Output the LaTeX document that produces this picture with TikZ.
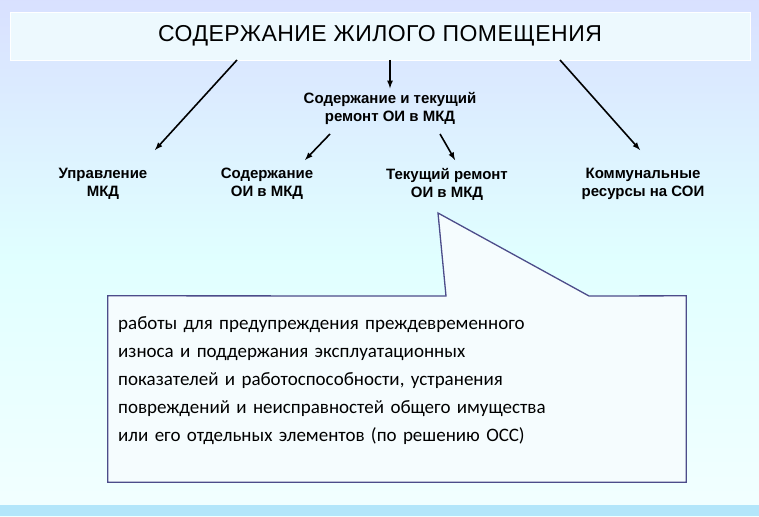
\documentclass[tikz,border=0pt]{standalone}
\usepackage{fontspec}
\setmainfont{Liberation Sans}
\newfontfamily\calfont{Carlito}
\begin{document}
\begin{tikzpicture}[x=1pt,y=-1pt,
  lbl/.style={font=\bfseries\fontsize{15}{18}\selectfont,align=center,text=black},
  arr/.style={-latex,line width=1.6pt,black},
  bord/.style={draw=black!40!blue!40!gray,line width=1.3pt}]
\useasboundingbox (0,0) rectangle (759,516);
\shade[top color=cyan!20!blue!15!white,bottom color=cyan!5!white,middle color=cyan!12!white] (0,0) rectangle (759,516);
\fill[cyan!30!white] (0,505) rectangle (759,516);
\node[fill=cyan!7!white,draw=white,minimum width=740pt,minimum height=48pt,inner sep=0pt] (title) at (380,36)
  {\fontsize{23}{26}\selectfont\addfontfeature{LetterSpace=2} СОДЕРЖАНИЕ ЖИЛОГО ПОМЕЩЕНИЯ};
\coordinate (tl) at (237,60); \coordinate (tm) at (390,60); \coordinate (tr) at (560,60);
\node[lbl] (mid) at (390,108) {Содержание и текущий\\ремонт ОИ в МКД};
\node[lbl] (a) at (103,184) {Управление\\МКД};
\node[lbl] (b) at (267,184) {Содержание\\ОИ в МКД};
\node[lbl] (c) at (447,184) {Текущий ремонт\\ОИ в МКД};
\node[lbl] (d) at (643,184) {Коммунальные\\ресурсы на СОИ};
\draw[arr] (tl) -- (155,150);
\draw[arr] (tm) -- (mid.north);
\draw[arr] (tr) -- (640,150);
\draw[arr] (330,134) -- (305,160);
\draw[arr] (440,134) -- (455,160);
\node[inner sep=0pt,minimum width=578pt,minimum height=186pt] (box) at (397,389) {};
\coordinate (tip) at (438,213);
\filldraw[bord,fill=cyan!4!white] (box.north west) -- (446,296) -- (tip) -- (589,296) -- (box.north east) -- (box.south east) -- (box.south west) -- cycle;
\node[anchor=north west,inner sep=0pt,text width=558pt,font=\calfont\fontsize{19}{28}\selectfont] (txt) at (118,316) {%
\makebox[558pt][s]{работы для предупреждения преждевременного}\\
\makebox[558pt][s]{износа и поддержания эксплуатационных}\\
\makebox[558pt][s]{показателей и работоспособности, устранения}\\
\makebox[558pt][s]{повреждений и неисправностей общего имущества}\\
или его отдельных элементов (по решению ОСС)};
\end{tikzpicture}
\end{document}
